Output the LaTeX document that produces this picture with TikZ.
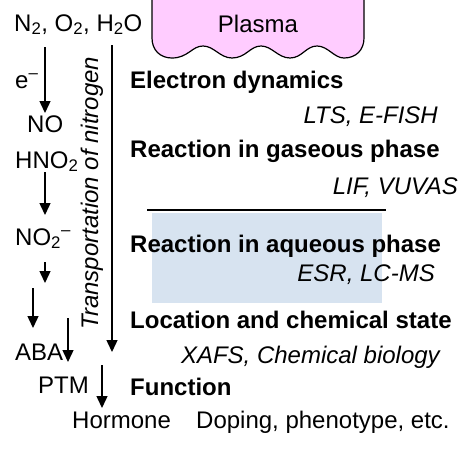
\documentclass[tikz,border=0pt]{standalone}
\usepackage{fontspec}
\setmainfont{Liberation Sans}
\usetikzlibrary{arrows.meta}
\definecolor{plasmapink}{RGB}{255,204,255}
\definecolor{aqblue}{RGB}{215,227,240}
\tikzset{
  txt/.style={inner sep=0pt,anchor=base west,font=\fontsize{24}{28}\selectfont},
  head/.style={txt,font=\fontsize{24}{28}\selectfont\bfseries},
  meth/.style={txt,anchor=base east,font=\fontsize{24}{28}\selectfont\itshape},
  arr/.style={line width=1.4pt,-{Triangle[width=11pt,length=12pt]}}
}
\begin{document}
\begin{tikzpicture}[x=1pt,y=-1pt]
\useasboundingbox (0,0) rectangle (474,448);
\fill[aqblue] (152,213) rectangle (382,303);
\draw[line width=1.2pt,fill=plasmapink] (152,-3) -- (152,38)
  .. controls (152,50) and (160,58) .. (172,58)
  .. controls (188,58) and (192,46) .. (203,46)
  .. controls (214,46) and (220,58) .. (232,58)
  .. controls (246,58) and (250,46) .. (261,46)
  .. controls (272,46) and (278,58) .. (290,58)
  .. controls (302,58) and (306,46) .. (317,46)
  .. controls (328,46) and (334,58) .. (344,58)
  .. controls (356,58) and (364,50) .. (364,38) -- (364,-3) -- cycle;
\node[txt,anchor=base] at (258,32) (plasma) {Plasma};
\node[txt] at (14,31) (src) {N\textsubscript{2}, O\textsubscript{2}, H\textsubscript{2}O};
\node[txt] at (15,88) (el) {e\textsuperscript{–}};
\node[txt] at (27,132) (no) {NO};
\node[txt] at (15,168) (hno) {HNO\textsubscript{2}};
\node[txt] at (15,245) (nitrite) {NO\textsubscript{2}\textsuperscript{–}};
\node[txt] at (15,360) (aba) {ABA};
\node[txt] at (38,393) (ptm) {PTM};
\node[txt] at (72,428) (hormone) {Hormone};
\node[txt] at (196,428) (doping) {Doping, phenotype, etc.};
\node[meth,anchor=base west,rotate=90] at (98,330) (trans) {Transportation of nitrogen};
\node[head] at (130,88) (ed) {Electron dynamics};
\node[meth] at (438,123) (lts) {LTS, E-FISH};
\node[head] at (130,157) (gas) {Reaction in gaseous phase};
\node[meth] at (458,194) (lif) {LIF, VUVAS};
\node[head] at (130,252) (aq) {Reaction in aqueous phase};
\node[meth] at (435,281) (esr) {ESR, LC-MS};
\node[head] at (130,328) (loc) {Location and chemical state};
\node[meth] at (440,363) (xafs) {XAFS, Chemical biology};
\node[head] at (130,395) (func) {Function};
\coordinate (a1) at (45,47);
\coordinate (a2) at (45,113);
\coordinate (b1) at (45,172);
\coordinate (b2) at (45,215);
\coordinate (c1) at (45,262);
\coordinate (c2) at (45,283);
\coordinate (d1) at (33,288);
\coordinate (d2) at (33,328);
\coordinate (e1) at (68,318);
\coordinate (e2) at (68,362);
\coordinate (f1) at (102,365);
\coordinate (f2) at (102,408);
\coordinate (g1) at (112,45);
\coordinate (g2) at (112,352);
\coordinate (sep1) at (147,210);
\coordinate (sep2) at (386,210);
\draw[arr] (a1) -- (a2);
\draw[arr] (b1) -- (b2);
\draw[arr] (c1) -- (c2);
\draw[arr] (d1) -- (d2);
\draw[arr] (e1) -- (e2);
\draw[arr] (f1) -- (f2);
\draw[arr] (g1) -- (g2);
\draw[line width=1.4pt] (sep1) -- (sep2);
\end{tikzpicture}
\end{document}
